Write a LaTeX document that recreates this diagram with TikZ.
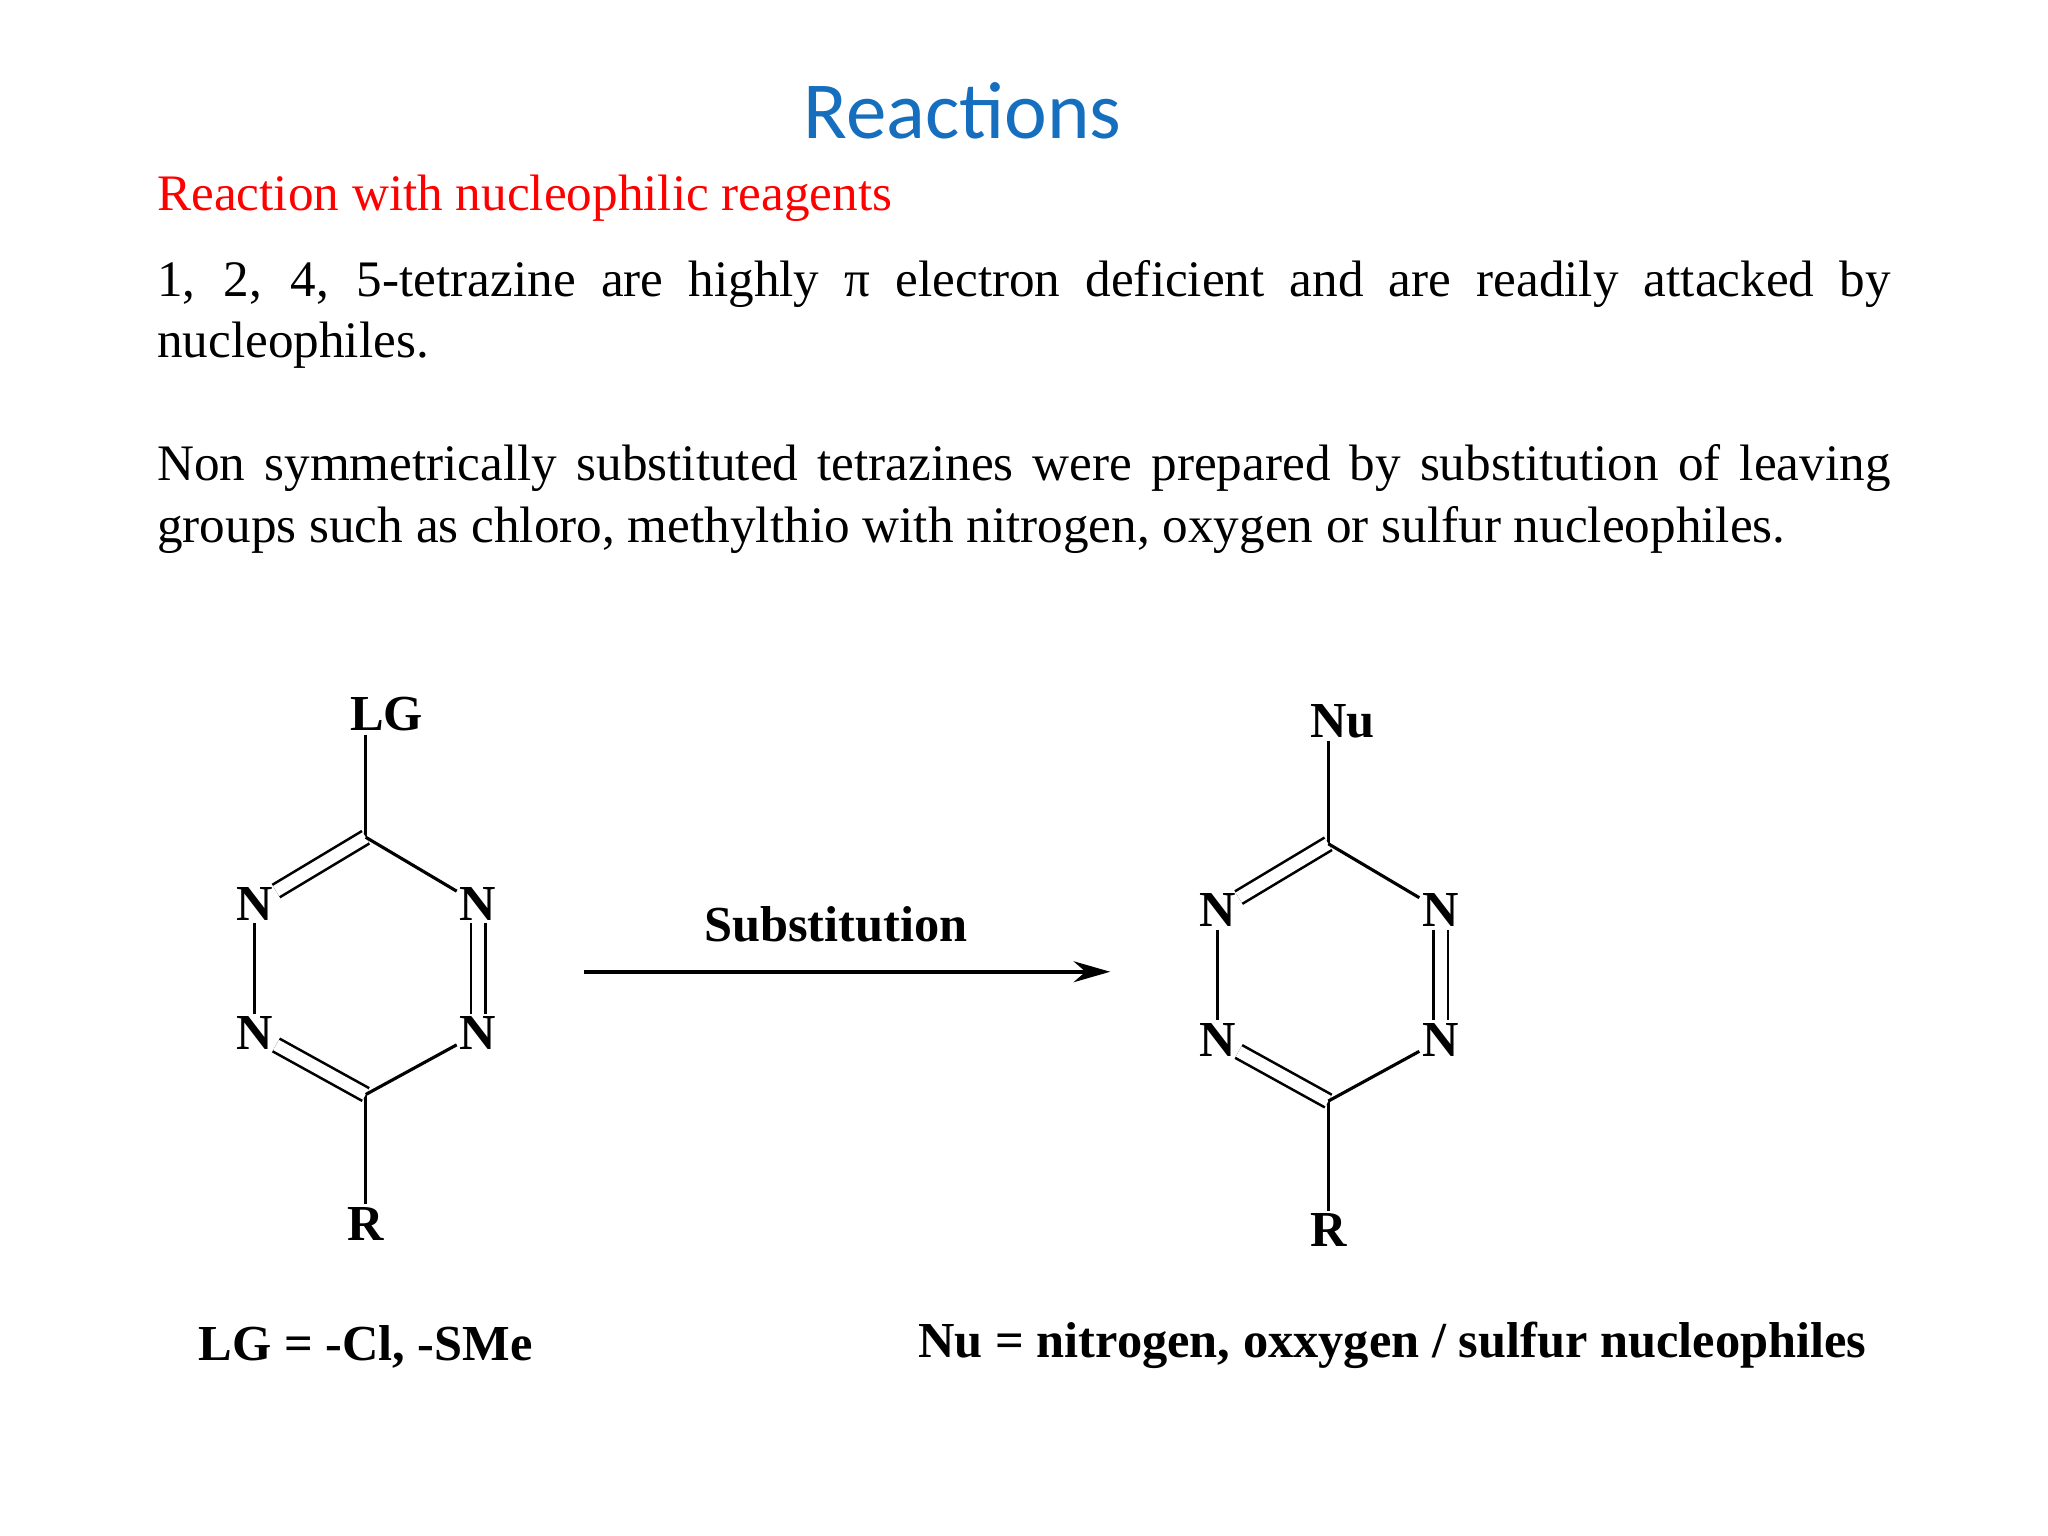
\documentclass[tikz,border=0pt]{standalone}
\usepackage{fontspec}
\setmainfont{Liberation Serif}
\newfontfamily\titlefont{Carlito}
\usetikzlibrary{arrows.meta}
\definecolor{ttl}{RGB}{21,110,190}
\tikzset{x=0.5pt,y=-0.5pt,
 atom/.style={font=\fontsize{19.3}{19.3}\selectfont\bfseries,inner sep=1pt},
 bond/.style={line width=1.2pt},
 dbl/.style={line width=1.0pt,double,double distance=4.5pt},
 body/.style={font=\fontsize{19.6}{23.5}\selectfont,text width=663.5pt,align=justify,anchor=north west,inner sep=0pt}}
\begin{document}
\begin{tikzpicture}
\useasboundingbox[fill=white] (0,0) rectangle (1568,1176);
\node[font=\titlefont\fontsize{31}{31}\selectfont,text=ttl] (title) at (737,85) {Reactions};
\node[font=\fontsize{19.6}{19.6}\selectfont,text=red,anchor=west,inner sep=0pt] (sub) at (120,152) {Reaction with nucleophilic reagents};
\node[body] (p1) at (120,199) {1, 2, 4, 5-tetrazine are highly π electron deficient and are readily attacked by \mbox{nucleophiles.}};
\node[body] (p2) at (120,340) {Non symmetrically substituted tetrazines were prepared by substitution of leaving groups such as chloro, methylthio with nitrogen, oxygen or sulfur nucleophiles.};
% left ring
\coordinate (c1) at (280,641); \coordinate (c2) at (280,838);
\node[atom] (n1) at (195,692) {N};
\node[atom] (n2) at (366,692) {N};
\node[atom] (n3) at (195,791) {N};
\node[atom] (n4) at (366,791) {N};
\node[atom] (lg) at (296,547) {LG};
\node[atom] (r1) at (280,937) {R};
\draw[bond] (lg.south -| c1) -- (c1);
\draw[bond] (c2) -- (r1);
\draw[dbl] (c1) -- (n1);
\draw[bond] (c1) -- (n2);
\draw[bond] (n1) -- (n3);
\draw[dbl] (n2) -- (n4);
\draw[dbl] (n3) -- (c2);
\draw[bond] (n4) -- (c2);
% arrow
\coordinate (a1) at (447,744); \coordinate (a2) at (850,744);
\draw[line width=1.4pt,-{Stealth[length=14pt,width=8pt]}] (a1) -- (a2);
\node[atom] (subst) at (640,708) {Substitution};
% right ring
\coordinate (d1) at (1017,646); \coordinate (d2) at (1017,843);
\node[atom] (m1) at (932,697) {N};
\node[atom] (m2) at (1103,697) {N};
\node[atom] (m3) at (932,796) {N};
\node[atom] (m4) at (1103,796) {N};
\node[atom] (nu) at (1028,552) {Nu};
\node[atom] (r2) at (1017,942) {R};
\draw[bond] (nu.south -| d1) -- (d1);
\draw[bond] (d2) -- (r2);
\draw[dbl] (d1) -- (m1);
\draw[bond] (d1) -- (m2);
\draw[bond] (m1) -- (m3);
\draw[dbl] (m2) -- (m4);
\draw[dbl] (m3) -- (d2);
\draw[bond] (m4) -- (d2);
\node[atom] (lgdef) at (280,1031) {LG = -Cl, -SMe};
\node[atom] (nudef) at (1066,1030) {Nu = nitrogen, oxxygen / sulfur nucleophiles};
\end{tikzpicture}
\end{document}
